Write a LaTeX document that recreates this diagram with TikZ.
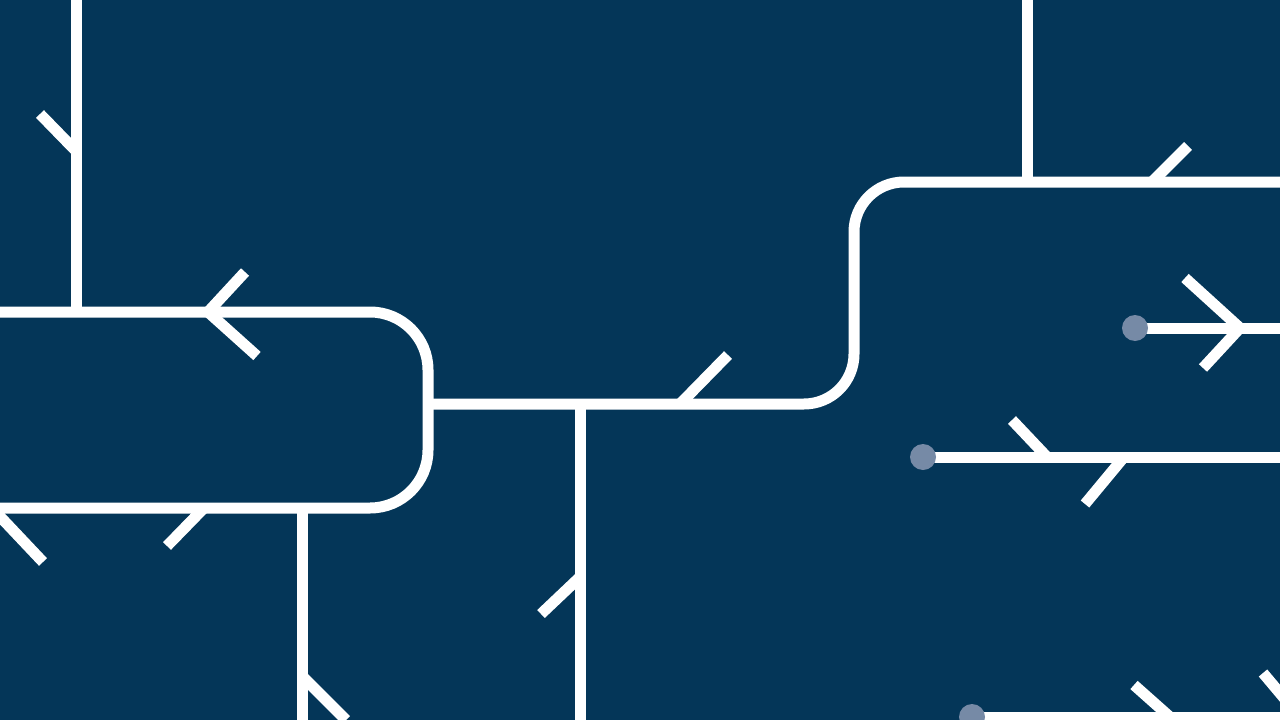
\documentclass[tikz,border=0pt]{standalone}
\definecolor{bg}{RGB}{4,54,88}
\definecolor{dotc}{RGB}{118,138,166}
\tikzset{
  wire/.style={draw=white, line width=11pt, line cap=butt},
  barb/.style={draw=white, line width=11pt, line cap=butt},
  startdot/.style={fill=dotc, draw=none}
}
\begin{document}
\begin{tikzpicture}[x=1pt,y=-1pt]
  \fill[bg] (0,0) rectangle (1280,720);
  \useasboundingbox (0,0) rectangle (1280,720);
  \begin{scope}
  \clip (0,0) rectangle (1280,720);
  % named points
  \coordinate (tl) at (76,-10);
  \coordinate (tlj) at (76,312);
  % left vertical line
  \draw[wire] (tl) -- (tlj);
  \draw[barb] (76,151) -- (40,114);
  % left rounded box
  \draw[wire, rounded corners=58pt] (-10,312) -- (428,312) -- (428,508) -- (-10,508);
  \draw[barb] (208,312) -- (245,272);
  \draw[barb] (208,312) -- (257,356);
  % bottom barbs of box
  \draw[barb] (-8,508) -- (43,562);
  \draw[barb] (204,508) -- (167,546);
  % vertical from box bottom
  \draw[wire] (302,508) -- (302,730);
  \draw[barb] (302,676) -- (346,720);
  % middle connector with S-bend
  \draw[wire, rounded corners=50pt] (428,404) -- (854,404) -- (854,182) -- (1290,182);
  \draw[barb] (680,404) -- (728,355);
  % vertical down from middle
  \draw[wire] (580,404) -- (580,730);
  \draw[barb] (580,577) -- (541,614);
  % top right vertical
  \draw[wire] (1027,-10) -- (1027,182);
  \draw[barb] (1152,182) -- (1188,146);
  % right lines with dots
  \draw[wire] (1135,328) -- (1290,328);
  \draw[barb] (1240,328) -- (1185,278);
  \draw[barb] (1240,328) -- (1203,368);
  \fill[startdot] (1135,328) circle (13pt);
  \draw[wire] (923,457) -- (1290,457);
  \draw[barb] (1047,457) -- (1012,420);
  \draw[barb] (1124,457) -- (1085,504);
  \fill[startdot] (923,457) circle (13pt);
  \draw[wire] (972,717) -- (1290,717);
  \draw[barb] (1170,717) -- (1134,685);
  \draw[barb] (1300,717) -- (1263,673);
  \fill[startdot] (972,717) circle (13pt);
  \end{scope}
\end{tikzpicture}
\end{document}
